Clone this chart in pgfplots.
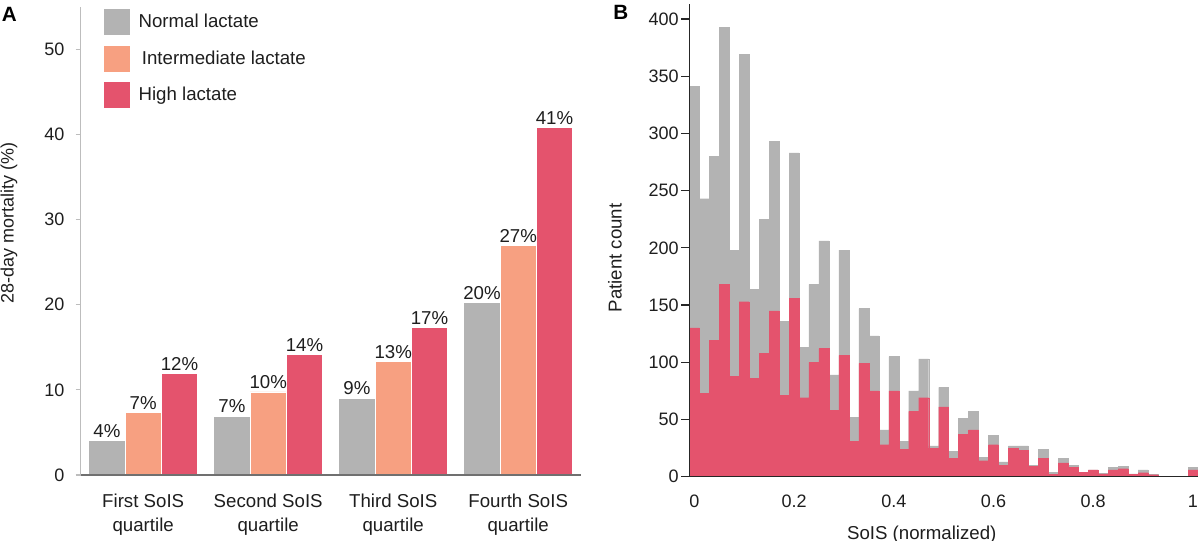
\documentclass[border=0pt]{standalone}
\usepackage{fontspec}
\setmainfont{Liberation Sans}
\usepackage{pgfplots}
\usepackage{pgfplotstable}
\pgfplotsset{compat=1.18}
\definecolor{cgray}{HTML}{B3B3B3}
\definecolor{corange}{HTML}{F7A081}
\definecolor{cred}{HTML}{E4536D}
\definecolor{ctext}{HTML}{1E1E1E}
\definecolor{caxA}{HTML}{707070}
\definecolor{caxAl}{HTML}{BDBDBD}
\newcommand{\fs}{\fontsize{13.5}{17.8}\selectfont}
\newcommand{\fl}{\fontsize{14}{17.8}\selectfont}

\pgfplotstableread{
x total high
0.00 341 130
0.02 243 73
0.04 280 119
0.06 393 168
0.08 198 88
0.10 369 153
0.12 164 86
0.14 225 108
0.16 293 145
0.18 136 71
0.20 283 156
0.22 113 69
0.24 168 100
0.26 206 112
0.28 89 58
0.30 198 106
0.32 52 31
0.34 147 99
0.36 123 75
0.38 41 28
0.40 105 75
0.42 31 24
0.44 75 57
0.46 103 69
0.48 27 25
0.50 78 61
0.52 22 16
0.54 51 37
0.56 57 41
0.58 17 14
0.60 36 28
0.62 13 10
0.64 27 25
0.66 27 23
0.68 10 9
0.70 24 16
0.72 4 2
0.74 16 12
0.76 10 8
0.78 4 4
0.80 6 6
0.82 3 2.5
0.84 8 6
0.86 9 7
0.88 2.5 2
0.90 6 3.5
0.92 2.3 1.7
0.94 0.6 0.6
0.96 0.6 0.6
0.98 0 0
1.00 8 6
}\histdata

\begin{document}
\begin{tikzpicture}[x=0.75pt,y=0.75pt]
\path[use as bounding box] (0,0) rectangle (1200,541);

% ---------------- Panel A ----------------
\begin{axis}[
  at={(60.525pt,49.5pt)}, anchor=south west,
  scale only axis, width=375pt, height=351.2pt,
  xmin=-0.5, xmax=3.5, ymin=0, ymax=55,
  clip=false, axis on top,
  axis x line*=bottom, axis y line*=left,
  x axis line style={draw=caxA, line width=1.5pt},
  y axis line style={draw=caxAl, line width=0.8pt},
  tick align=outside,
  ytick={0,10,20,30,40,50},
  ytick style={draw=caxAl, line width=0.8pt},
  major tick length=3.75pt,
  xtick={0,1,2,3},
  xticklabels={{First SoIS\\quartile},{Second SoIS\\quartile},{Third SoIS\\quartile},{Fourth SoIS\\quartile}},
  xtick style={draw=none},
  xticklabel style={align=center, font=\fl, text=ctext, yshift=-7pt},
  yticklabel style={font=\fs, text=ctext, xshift=-5pt},
  /pgf/number format/assume math mode=true,
  ylabel={28-day mortality (\%)},
  ylabel style={at={(axis description cs:-0.1434,0.539)}, anchor=center, font=\fs, text=ctext},
  legend cell align=left,
  legend image code/.code={\fill[#1,draw=none] (0pt,-9.75pt) rectangle (19.5pt,9.75pt);},
  legend style={at={(axis description cs:0.0472,0.995)}, anchor=north west,
    draw=none, fill=none, inner sep=0pt, outer sep=0pt,
    font=\fontsize{14}{16}\selectfont, text=ctext, row sep=7.9pt,
    /tikz/every odd column/.append style={column sep=6.2pt},
    nodes={inner sep=0pt}},
  nodes near coords,
  point meta=explicit symbolic,
  every node near coord/.append style={font=\fl, text=ctext, inner sep=2pt, anchor=south},
]
\addplot[ybar, bar width=0.29, bar shift=0, fill=cgray, draw=white, line width=0.5pt]
  coordinates {(-0.29,4.09)[4\%] (0.71,6.92)[7\%] (1.71,9.03)[9\%] (2.71,20.24)[20\%]};
\addlegendentry{Normal lactate}
\addplot[ybar, bar width=0.29, bar shift=0, fill=corange, draw=white, line width=0.5pt]
  coordinates {(0,7.37)[7\%] (1,9.76)[10\%] (2,13.32)[13\%] (3,26.95)[27\%]};
\addlegendentry{\hspace{2.5pt}Intermediate lactate}
\addplot[ybar, bar width=0.29, bar shift=0, fill=cred, draw=white, line width=0.5pt]
  coordinates {(0.29,11.94)[12\%] (1.29,14.13)[14\%] (2.29,17.35)[17\%] (3.29,40.8)[41\%]};
\addlegendentry{High lactate}
\end{axis}

% ---------------- Panel B ----------------
\begin{axis}[
  at={(516.975pt,48.225pt)}, anchor=south west,
  scale only axis, width=381.5pt, height=354.4pt,
  xmin=-0.01, xmax=1.01, ymin=0, ymax=413,
  axis on top,
  axis x line*=bottom, axis y line*=left,
  axis line style={draw=black!85, line width=0.9pt},
  tick align=outside,
  ytick={0,50,...,400},
  ytick style={draw=black!85, line width=0.9pt},
  major tick length=6pt,
  xtick={0,0.2,0.4,0.6,0.8,1},
  xticklabels={0,0.2,0.4,0.6,0.8,1},
  xtick style={draw=none},
  xticklabel style={font=\fs, text=ctext, yshift=-4pt},
  yticklabel style={font=\fs, text=ctext, xshift=1.5pt},
  /pgf/number format/assume math mode=true,
  ylabel={Patient count},
  ylabel style={at={(axis description cs:-0.146,0.463)}, anchor=center, font=\fl, text=ctext},
  xlabel={SoIS (normalized)},
  xlabel style={at={(axis description cs:0.457,-0.122)}, anchor=center, font=\fl, text=ctext},
]
\addplot[ybar, bar width=0.02, bar shift=0, fill=cgray, draw=cgray, line width=0.2pt] table[x=x, y=total] {\histdata};
\addplot[ybar, bar width=0.02, bar shift=0, fill=cred, draw=cred, line width=0.2pt] table[x=x, y=high] {\histdata};
\end{axis}

% panel letters
\node[anchor=base west, inner sep=0pt, font=\fontsize{15.5}{18}\selectfont\bfseries, text=black] at (1.7,519.3) {A};
\node[anchor=base west, inner sep=0pt, font=\fontsize{15.5}{18}\selectfont\bfseries, text=black] at (613,521) {B};
\end{tikzpicture}
\end{document}
